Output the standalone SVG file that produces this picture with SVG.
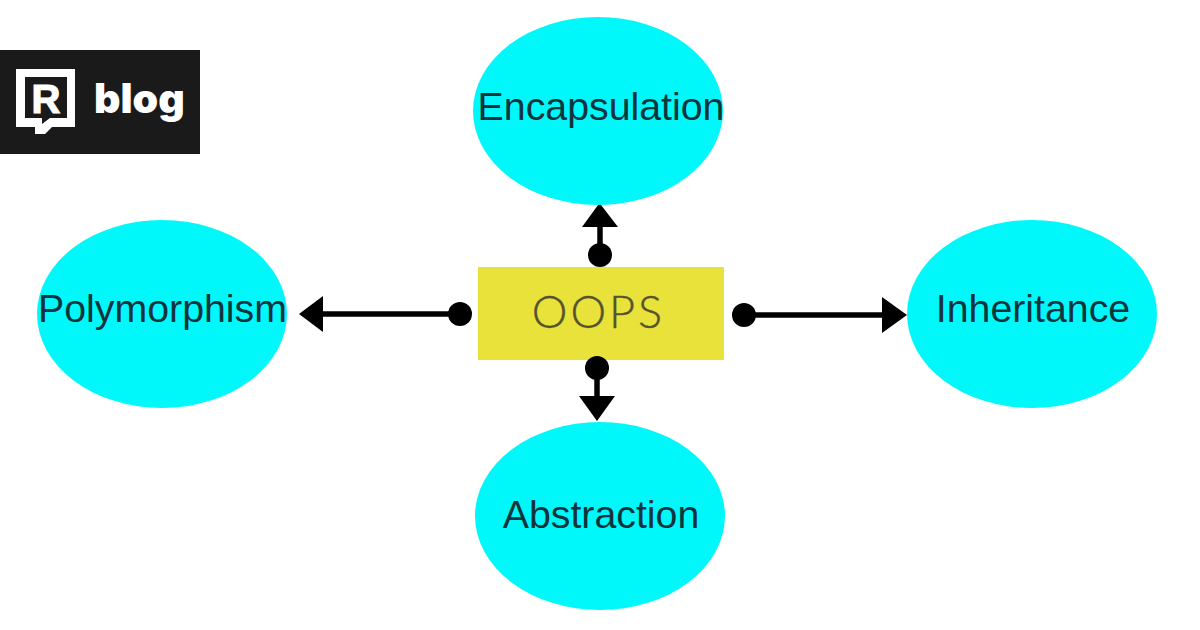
<svg xmlns="http://www.w3.org/2000/svg" width="1200" height="630" viewBox="0 0 1200 630">
<style>
.e{fill:#00f8fb}
.t{font-family:"Liberation Sans",Arial,sans-serif;font-size:39.3px;fill:#0f343c;text-anchor:middle}
.l{stroke:#000;stroke-width:5.5;fill:none}
.d,.a{fill:#000}
</style>
<rect width="1200" height="630" fill="#fff"/>
<g id="logo">
<rect x="0" y="50" width="200" height="104" fill="#1a1a1a"/>
<path fill="#fff" fill-rule="evenodd" d="M16 69H75V127H52L45 134H35V127H16ZM25 77V118H42V124L50 118H67V77Z"/>
<text x="46" y="113" font-family="'Liberation Sans',sans-serif" font-weight="700" font-size="40" fill="#fff" stroke="#fff" stroke-width="1.2" text-anchor="middle">R</text>
<text x="94" y="113" font-family="Inter,sans-serif" font-weight="900" font-size="41" fill="#fff">blog</text>
</g>
<g id="oops">
<rect x="478" y="267" width="246" height="93" fill="#e9e23b"/>
<text x="598.500" y="328" font-family="Lato,'Open Sans',sans-serif" font-weight="300" font-size="45" letter-spacing="3" fill="#55532f" stroke="#55532f" stroke-width="0.4" text-anchor="middle">OOPS</text>
</g>
<g id="connectors">
<path class="l" d="M600 255V225"/>
<path class="a" d="M599.500 203L618 227H582Z"/>
<circle class="d" cx="600" cy="255" r="12"/>
<path class="l" d="M597 368V398"/>
<path class="a" d="M597 421L579 396H615Z"/>
<circle class="d" cx="597" cy="368" r="12"/>
<path class="l" d="M460 314H322"/>
<path class="a" d="M299 314L323 296V332Z"/>
<circle class="d" cx="460" cy="314" r="12"/>
<path class="l" d="M744 315H884"/>
<path class="a" d="M907 315L882 297V333Z"/>
<circle class="d" cx="744" cy="315" r="12"/>
</g>
<g id="encapsulation">
<ellipse class="e" cx="598" cy="111" rx="125" ry="94"/>
<text class="t" x="601" y="120">Encapsulation</text>
</g>
<g id="polymorphism">
<ellipse class="e" cx="162" cy="314" rx="125" ry="94"/>
<text class="t" x="162.500" y="322">Polymorphism</text>
</g>
<g id="inheritance">
<ellipse class="e" cx="1032" cy="314" rx="125" ry="94"/>
<text class="t" x="1033" y="322">Inheritance</text>
</g>
<g id="abstraction">
<ellipse class="e" cx="600" cy="516" rx="125" ry="94"/>
<text class="t" x="601" y="528">Abstraction</text>
</g>
</svg>
